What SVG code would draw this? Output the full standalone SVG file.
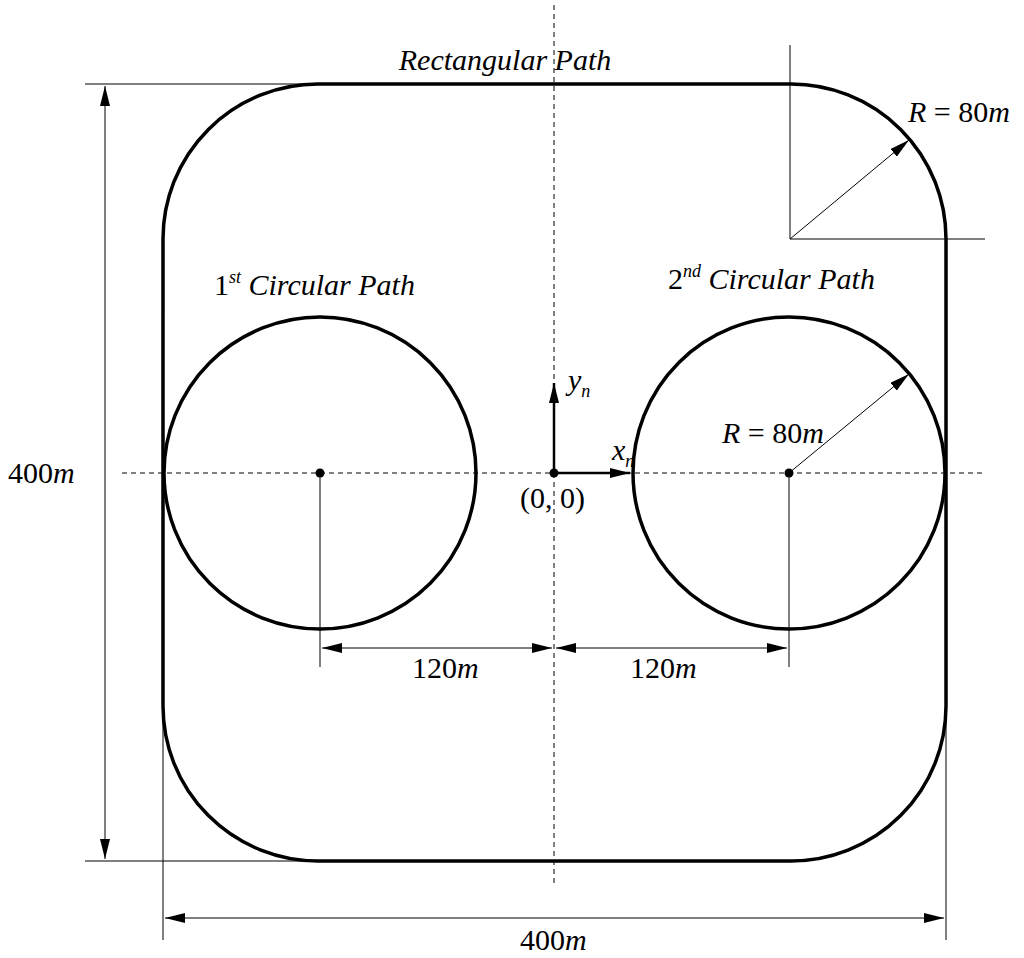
<svg xmlns="http://www.w3.org/2000/svg" width="1024" height="958" viewBox="0 0 1024 958">
<defs>
<marker id="b" viewBox="0 0 20 10" refX="20" refY="5" markerWidth="20" markerHeight="10" markerUnits="userSpaceOnUse" orient="auto-start-reverse"><path d="M0,0L20,5L0,10z" fill="#000"/></marker>
</defs>
<style>
.p{fill:none;stroke:#000;stroke-width:3.5}
.t{stroke:#000;stroke-width:1;fill:none}
.d{stroke:#000;stroke-width:1;stroke-dasharray:5,4;fill:none}
.i{font-style:italic}
</style>
<rect width="1024" height="958" fill="#fff"/>
<g id="connectors">
<line class="d" x1="554" y1="5" x2="554" y2="885"/>
<line class="d" x1="122" y1="473" x2="985" y2="473"/>
<line class="t" x1="790" y1="45" x2="790" y2="239"/>
<line class="t" x1="790" y1="239" x2="985" y2="239"/>
<line class="t" x1="790" y1="239" x2="909" y2="140" marker-end="url(#b)"/>
<line class="t" x1="789" y1="473" x2="909" y2="374" marker-end="url(#b)"/>
<line class="t" x1="85" y1="84" x2="310" y2="84"/>
<line class="t" x1="85" y1="861" x2="310" y2="861"/>
<line class="t" x1="105" y1="86" x2="105" y2="859" marker-start="url(#b)" marker-end="url(#b)"/>
<line class="t" x1="163" y1="700" x2="163" y2="940"/>
<line class="t" x1="946" y1="700" x2="946" y2="940"/>
<line class="t" x1="165" y1="918" x2="944" y2="918" marker-start="url(#b)" marker-end="url(#b)"/>
<line class="t" x1="320" y1="473" x2="320" y2="667"/>
<line class="t" x1="789" y1="473" x2="789" y2="667"/>
<line class="t" x1="322" y1="648" x2="552" y2="648" marker-start="url(#b)" marker-end="url(#b)"/>
<line class="t" x1="556" y1="648" x2="787" y2="648" marker-start="url(#b)" marker-end="url(#b)"/>
<line x1="554" y1="473" x2="554" y2="383" stroke="#000" stroke-width="2.5" marker-end="url(#b)"/>
<line x1="554" y1="473" x2="630" y2="473" stroke="#000" stroke-width="2.5" marker-end="url(#b)"/>
</g>
<g font-family="'Liberation Serif', 'Times New Roman', 'DejaVu Serif', serif" font-size="30">
<g id="rect-path"><rect class="p" x="163" y="84" width="783" height="777" rx="155" ry="155"/>
<text x="505" y="70" text-anchor="middle" class="i">Rectangular Path</text></g>
<g id="circle1"><circle class="p" cx="320" cy="473" r="156"/><circle cx="320" cy="473" r="4.5"/>
<text x="214" y="295"><tspan>1</tspan><tspan font-size="18" dy="-12" class="i">st</tspan><tspan dy="12" class="i"> Circular Path</tspan></text></g>
<g id="circle2"><circle class="p" cx="789" cy="473" r="156"/><circle cx="789" cy="473" r="4.5"/>
<text x="668" y="289"><tspan>2</tspan><tspan font-size="18" dy="-12" class="i">nd</tspan><tspan dy="12" class="i"> Circular Path</tspan></text></g>
<g id="origin"><circle cx="554" cy="473" r="4.5"/>
<text x="520" y="508">(0, 0)</text>
<text x="568" y="390" class="i">y<tspan font-size="18" dy="7">n</tspan></text>
<text x="612" y="460" class="i">x<tspan font-size="18" dy="7">n</tspan></text></g>
<g id="labels">
<text x="908" y="122"><tspan class="i">R</tspan> = 80<tspan class="i">m</tspan></text>
<text x="722" y="443"><tspan class="i">R</tspan> = 80<tspan class="i">m</tspan></text>
<text x="8" y="483">400<tspan class="i">m</tspan></text>
<text x="520" y="950">400<tspan class="i">m</tspan></text>
<text x="412" y="678">120<tspan class="i">m</tspan></text>
<text x="630" y="678">120<tspan class="i">m</tspan></text>
</g>
</g>
</svg>
